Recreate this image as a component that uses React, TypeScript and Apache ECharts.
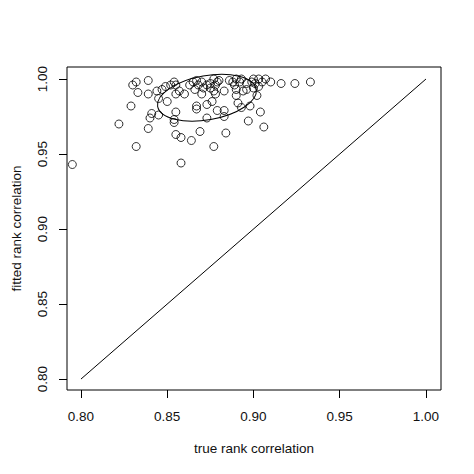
import { useEffect, useRef } from "react";
import * as echarts from "echarts";

// true rank correlation (x) vs fitted rank correlation (y)
const trueRank = [
  0.795, 0.830, 0.832, 0.839, 0.833, 0.839, 0.829, 0.822, 0.839, 0.840,
  0.841, 0.832, 0.858, 0.845, 0.845, 0.844, 0.847, 0.849, 0.852, 0.854,
  0.855, 0.850, 0.855, 0.854, 0.854, 0.855, 0.858, 0.864, 0.869, 0.877,
  0.855, 0.857, 0.860, 0.865, 0.867, 0.870, 0.866, 0.870, 0.867, 0.867,
  0.873, 0.873, 0.876, 0.879, 0.875, 0.877, 0.878, 0.875, 0.879, 0.877,
  0.873, 0.884, 0.897, 0.906, 0.904, 0.898, 0.893, 0.891, 0.883, 0.883,
  0.902, 0.890, 0.890, 0.894, 0.883, 0.888, 0.890, 0.892, 0.893, 0.889,
  0.886, 0.896, 0.900, 0.901, 0.903, 0.905, 0.907, 0.903, 0.900, 0.910,
  0.916, 0.924, 0.933, 0.880, 0.871, 0.896, 0.899, 0.868, 0.878, 0.863,
];
const fittedRank = [
  0.943, 0.996, 0.998, 0.999, 0.991, 0.990, 0.982, 0.970, 0.967, 0.974,
  0.977, 0.955, 0.944, 0.976, 0.987, 0.992, 0.993, 0.995, 0.996, 0.998,
  0.996, 0.985, 0.978, 0.973, 0.971, 0.963, 0.961, 0.959, 0.965, 0.955,
  0.990, 0.992, 0.990, 0.998, 0.999, 0.998, 0.993, 0.990, 0.982, 0.980,
  0.974, 0.983, 0.985, 0.979, 0.997, 1.000, 0.996, 0.994, 0.998, 0.992,
  0.996, 0.964, 0.972, 0.968, 0.978, 0.982, 0.981, 0.984, 0.979, 0.975,
  0.989, 0.989, 0.993, 0.992, 0.992, 0.998, 1.000, 0.998, 1.000, 0.996,
  0.999, 0.997, 1.000, 0.997, 1.000, 0.998, 1.000, 0.995, 0.994, 0.998,
  0.997, 0.997, 0.998, 0.999, 0.994, 0.993, 0.998, 0.996, 0.990, 0.996,
];

const tickValues = [0.8, 0.85, 0.9, 0.95, 1.0];
const identityLine = [
  [0.8, 0.8],
  [1.0, 1.0],
];
// centre x, centre y, semi-axis (x units), semi-axis (y units), tilt in degrees
const ellipse = [0.873, 0.9875, 0.029, 0.0147, 10];

const FONT = "Liberation Sans, Arial, sans-serif";
const FONT_SIZE = 13.5;

export default function App() {
  const ref = useRef<HTMLDivElement>(null);

  useEffect(() => {
    if (!ref.current) return;
    const chart = echarts.init(ref.current, null, { renderer: "svg" });

    const axisCommon = {
      type: "value" as const,
      nameLocation: "middle" as const,
      axisLine: { show: false },
      axisTick: {
        show: true,
        inside: false,
        length: 8,
        customValues: tickValues,
        lineStyle: { color: "#000", width: 1 },
      },
      splitLine: { show: false },
      nameTextStyle: { color: "#111", fontSize: FONT_SIZE, fontFamily: FONT },
    };

    chart.setOption({
      animation: false,
      backgroundColor: "#fff",
      grid: {
        left: 67,
        right: 33,
        top: 67,
        bottom: 84,
        show: true,
        borderColor: "#000",
        borderWidth: 1,
        backgroundColor: "transparent",
      },
      xAxis: {
        ...axisCommon,
        min: 0.7919,
        max: 1.0087,
        name: "true rank correlation",
        nameGap: 51,
        axisLabel: {
          customValues: tickValues,
          formatter: (v: number) => v.toFixed(2),
          margin: 19,
          color: "#111",
          fontSize: FONT_SIZE,
          fontFamily: FONT,
        },
      },
      yAxis: {
        ...axisCommon,
        min: 0.7927,
        max: 1.008,
        name: "fitted rank correlation",
        nameGap: 44,
        axisLabel: {
          customValues: tickValues,
          formatter: (v: number) => v.toFixed(2),
          rotate: 90,
          margin: 18,
          color: "#111",
          fontSize: FONT_SIZE,
          fontFamily: FONT,
        },
      },
      series: [
        {
          type: "scatter",
          data: trueRank.map((x, i) => [x, fittedRank[i]]),
          symbol: "circle",
          symbolSize: 8,
          itemStyle: { color: "transparent", borderColor: "#000", borderWidth: 1 },
          silent: true,
          z: 3,
        },
        {
          type: "line",
          data: identityLine,
          symbol: "none",
          lineStyle: { color: "#000", width: 1 },
          silent: true,
          z: 2,
        },
        {
          type: "custom",
          data: [ellipse],
          silent: true,
          z: 2,
          renderItem: (_params: any, api: any) => {
            const c = api.coord([api.value(0), api.value(1)]);
            const s = api.size([api.value(2), api.value(3)]);
            return {
              type: "ellipse",
              x: c[0],
              y: c[1],
              rotation: (api.value(4) * Math.PI) / 180,
              shape: { cx: 0, cy: 0, rx: s[0], ry: s[1] },
              style: { fill: "none", stroke: "#000", lineWidth: 1 },
            };
          },
        },
      ],
    });

    return () => chart.dispose();
  }, []);

  return (
    <div
      ref={ref}
      style={{ position: "fixed", left: 0, top: 0, width: 474, height: 474, background: "#fff" }}
    />
  );
}
